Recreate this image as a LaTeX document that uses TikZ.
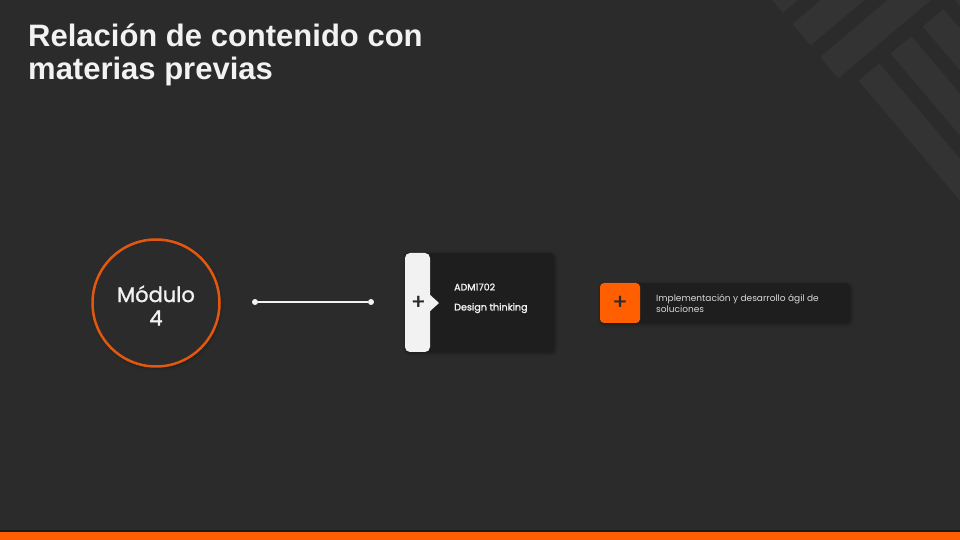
\documentclass[tikz,border=0pt]{standalone}
\usepackage{fontspec}
\usetikzlibrary{shadows.blur}
\newfontfamily\titlefont{Liberation Sans}
\newfontfamily\popfont{Poppins}
\newfontfamily\popmed{Poppins}[FakeBold=1.3]
\newfontfamily\popplus{Poppins}[FakeBold=2]
\definecolor{bgc}{HTML}{2B2B2B}
\definecolor{stripec}{HTML}{333333}
\definecolor{orangec}{HTML}{FF5F00}
\definecolor{ringc}{HTML}{E3580E}
\definecolor{boxc}{HTML}{1E1E1E}
\definecolor{whitec}{HTML}{F2F2F2}
\definecolor{plusc}{HTML}{2A2A2A}
\tikzset{
  stripe/.style={fill=stripec},
  softshadow/.style={blur shadow={shadow blur steps=6, shadow xshift=1pt, shadow yshift=-1.5pt, shadow blur radius=3pt, shadow opacity=35}},
  titletext/.style={anchor=base west, inner sep=0pt, text=whitec, font=\titlefont\bfseries\fontsize{31}{32}\selectfont},
  smalltext/.style={anchor=base west, inner sep=0pt, text=whitec, font=\popfont\fontsize{9.5}{11}\selectfont},
  plustext/.style={inner sep=0pt, text=plusc, font=\popplus\fontsize{21}{21}\selectfont},
  dotc/.style={circle, fill=whitec, inner sep=0pt, minimum size=6pt},
}
\begin{document}
\begin{tikzpicture}[x=1pt,y=1pt]
\useasboundingbox (0,0) rectangle (960,540);
\fill[bgc] (0,0) rectangle (960,540);
% decorative stripes
\begin{scope}
\clip (0,0) rectangle (960,540);
\begin{scope}[shift={(838.3,461.7)}, rotate=40.2]
 \fill[stripe] (0,0) rectangle (400,28);
 \fill[stripe] (0,43) rectangle (400,71);
 \fill[stripe] (0,86) rectangle (400,114);
 \fill[stripe] (14,-15) rectangle (41,-400);
 \fill[stripe] (56,-15) rectangle (83,-400);
 \fill[stripe] (98,-15) rectangle (125,-400);
 \fill[stripe] (140,-15) rectangle (167,-400);
\end{scope}
\end{scope}
% bottom bar
\fill[black, opacity=0.35] (0,8) rectangle (960,10);
\fill[orangec] (0,0) rectangle (960,8);
% title
\node[titletext] (t1) at (28,493) {Relación de contenido con};
\node[titletext] (t2) at (28,460) {materias previas};
% module circle
\node[circle, draw=ringc, line width=2.5pt, fill=bgc, minimum size=127pt, softshadow] (mod) at (156,237) {};
\node[align=center, text=whitec, font=\popmed\fontsize{21}{23.5}\selectfont] (modtxt) at (156,234.5) {Módulo\\4};
% connector
\node[dotc] (dl) at (255,238) {};
\node[dotc] (dr) at (371,238) {};
\draw[whitec, line width=2pt] (dl) -- (dr);
% box 1
\node[fill=boxc, rounded corners=4pt, minimum width=149pt, minimum height=99pt, inner sep=0pt, softshadow] (b1) at (479.5,237.5) {};
\node[fill=whitec, rounded corners=5pt, minimum width=25pt, minimum height=99pt, inner sep=0pt, anchor=west] (b1w) at (b1.west) {};
\fill[whitec] (b1w.east |- 0,245) -- (439,237) -- (b1w.east |- 0,229) -- cycle;
\node[plustext] (p1) at (418.3,237.5) {+};
\node[smalltext, font=\popmed\fontsize{9.5}{11}\selectfont] (a1) at (454,249.5) {ADM1702};
\node[smalltext, font=\popmed\fontsize{9.6}{11}\selectfont] (a2) at (454,229.5) {Design thinking};
% box 2
\node[fill=boxc, rounded corners=4pt, minimum width=250pt, minimum height=40pt, inner sep=0pt, softshadow] (b2) at (725,237) {};
\node[fill=orangec, rounded corners=4pt, minimum width=40pt, minimum height=40pt, inner sep=0pt, anchor=west] (b2o) at (b2.west) {};
\node[plustext] (p2) at ([yshift=0.5pt]b2o.center) {+};
\node[smalltext, text=white!85!black, font=\popfont\fontsize{9}{11}\selectfont] (c1) at (656,238.7) {Implementación y desarrollo ágil de};
\node[smalltext, text=white!85!black, font=\popfont\fontsize{9}{11}\selectfont] (c2) at (656,227) {soluciones};
\end{tikzpicture}
\end{document}
